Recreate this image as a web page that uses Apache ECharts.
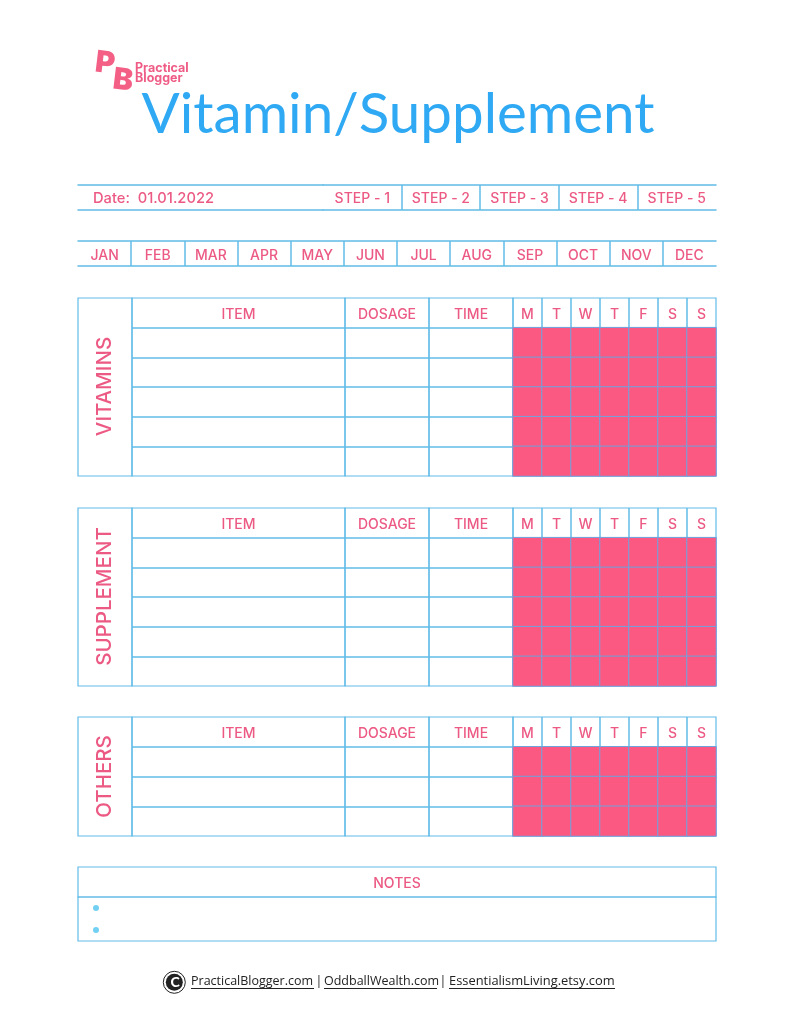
<!DOCTYPE html>
<html>
<head>
<meta charset="utf-8">
<title>Vitamin/Supplement</title>
<style>
  html, body { margin: 0; padding: 0; background: #fff; }
  #planner { width: 794px; height: 1028px; }
</style>
<script src="https://cdn.jsdelivr.net/npm/echarts@6/dist/echarts.min.js"></script>
</head>
<body>
<div id="planner"></div>
<script>
var dateText = 'Date:  01.01.2022';
var steps = ['STEP - 1', 'STEP - 2', 'STEP - 3', 'STEP - 4', 'STEP - 5'];
var months = ['JAN', 'FEB', 'MAR', 'APR', 'MAY', 'JUN', 'JUL', 'AUG', 'SEP', 'OCT', 'NOV', 'DEC'];
var columns = ['ITEM', 'DOSAGE', 'TIME'];
var days = ['M', 'T', 'W', 'T', 'F', 'S', 'S'];
var sections = ['VITAMINS', 'SUPPLEMENT', 'OTHERS'];
var vitaminsShaded = [
  [1, 1, 1, 1, 1, 1, 1],
  [1, 1, 1, 1, 1, 1, 1],
  [1, 1, 1, 1, 1, 1, 1],
  [1, 1, 1, 1, 1, 1, 1],
  [1, 1, 1, 1, 1, 1, 1]
];
var supplementShaded = [
  [1, 1, 1, 1, 1, 1, 1],
  [1, 1, 1, 1, 1, 1, 1],
  [1, 1, 1, 1, 1, 1, 1],
  [1, 1, 1, 1, 1, 1, 1],
  [1, 1, 1, 1, 1, 1, 1]
];
var othersShaded = [
  [1, 1, 1, 1, 1, 1, 1],
  [1, 1, 1, 1, 1, 1, 1],
  [1, 1, 1, 1, 1, 1, 1]
];
var noteBullets = ['a', 'b'];
var footerLinks = ['PracticalBlogger.com', 'OddballWealth.com', 'EssentialismLiving.etsy.com'];

var BLUE = '#62bce8',
  TITLE_BLUE = '#2fa9f3',
  PINK = '#ec5a84',
  CELL_PINK = '#fb5882',
  CELL_LINE = '#6fa3de',
  FONT = 'Inter',
  LABEL_SIZE = 14;

var chart = echarts.init(document.getElementById('planner'));
var grids = [], xAxes = [], yAxes = [], bottomRules = [], series = [];

// add one grid with a category axis each way, returns its index
function addGrid(box, xData, yData, opt) {
  opt = opt || {};
  var i = grids.length;
  grids.push({
    left: box.left, top: box.top, width: box.width, height: box.height,
    show: !opt.noBorder,
    borderColor: BLUE,
    borderWidth: 1.2,
    backgroundColor: 'transparent'
  });
  xAxes.push({
    gridIndex: i,
    type: 'category',
    position: 'top',
    data: xData,
    axisLine: { show: false },
    axisTick: { show: false },
    axisLabel: {
      show: !opt.noLabels,
      inside: true,
      interval: 0,
      margin: opt.margin || 9.5,
      color: PINK,
      fontFamily: FONT,
      fontSize: LABEL_SIZE,
      fontWeight: 500,
      hideOverlap: false
    },
    splitLine: {
      show: xData.length > 1,
      interval: 0,
      showMinLine: false,
      showMaxLine: false,
      lineStyle: { color: BLUE, width: 1.5 }
    }
  });
  yAxes.push({
    gridIndex: i,
    type: 'category',
    inverse: true,
    data: yData,
    axisLine: { show: false },
    axisTick: { show: false },
    axisLabel: { show: false },
    splitLine: {
      show: yData.length > 1,
      interval: 0,
      showMinLine: false,
      showMaxLine: false,
      lineStyle: { color: BLUE, width: 1.5 }
    }
  });
  return i;
}

// top and bottom rules only, no side borders
function addBar(left, width, top, height, labels, margin) {
  var i = addGrid({ left: left, top: top, width: width, height: height }, labels, ['bar'], { noBorder: true, margin: margin });
  xAxes[i].axisLine = { show: true, onZero: false, lineStyle: { color: BLUE, width: 1.5 } };
  bottomRules.push({
    gridIndex: i,
    type: 'category',
    position: 'bottom',
    data: labels,
    axisLine: { show: true, onZero: false, lineStyle: { color: BLUE, width: 1.5 } },
    axisTick: { show: false },
    axisLabel: { show: false },
    splitLine: { show: false }
  });
  return i;
}

// one table: section cell, text columns and shaded day columns
function addTable(top, height, shaded) {
  var rows = ['head'];
  shaded.forEach(function (r, n) { rows.push('row' + n); });

  addGrid({ left: 78, top: top, width: 54, height: height }, ['section'], ['all'], { noLabels: true });
  addGrid({ left: 132, top: top, width: 213, height: height }, [columns[0]], rows);
  addGrid({ left: 345, top: top, width: 84, height: height }, [columns[1]], rows);
  addGrid({ left: 429, top: top, width: 84, height: height }, [columns[2]], rows);
  var g = addGrid({ left: 513, top: top, width: 203, height: height }, days, rows);

  var cells = [];
  shaded.forEach(function (r, y) {
    r.forEach(function (v, x) {
      if (v) cells.push([x, y + 1, v]);
    });
  });
  series.push({
    type: 'heatmap',
    xAxisIndex: g,
    yAxisIndex: g,
    data: cells,
    silent: true,
    itemStyle: { color: CELL_PINK, borderColor: CELL_LINE, borderWidth: 1 }
  });
}

// date row and month row
addBar(78, 245, 185, 25, [''], 7);
addBar(323, 393, 185, 25, steps, 7);
addBar(78, 638, 241, 25, months, 7.5);

addTable(298, 178, vitaminsShaded);
addTable(508, 178, supplementShaded);
addTable(717, 119, othersShaded);

// notes box
addGrid({ left: 78, top: 867, width: 638, height: 30 }, ['NOTES'], ['head']);
addGrid({ left: 78, top: 897, width: 638, height: 44 }, ['body'], ['body'], { noLabels: true });
var b = addGrid({ left: 78, top: 897, width: 36, height: 44 }, ['bullet'], noteBullets, { noBorder: true, noLabels: true });
yAxes[b].splitLine.show = false;
series.push({
  type: 'scatter',
  xAxisIndex: b,
  yAxisIndex: b,
  symbolSize: 6,
  silent: true,
  itemStyle: { color: '#74d0f2', opacity: 1 },
  data: noteBullets.map(function (n) { return ['bullet', n]; })
});

function text(str, x, y, font, fill, extra) {
  return Object.assign({
    type: 'text',
    x: x,
    y: y,
    silent: true,
    style: { text: str, font: font, fill: fill, align: 'center', verticalAlign: 'middle' }
  }, extra || {});
}

function leftText(str, x, y, font, fill) {
  return {
    type: 'text',
    x: x,
    y: y,
    silent: true,
    style: { text: str, font: font, fill: fill, align: 'left', verticalAlign: 'middle' }
  };
}

var graphics = [
  // logo
  text('P', 105, 63.5, '900 30px Inter', '#f45f86', { rotation: -0.12 }),
  text('B', 123, 80.5, '900 30px Inter', '#f45f86', { rotation: -0.12 }),
  leftText('Practical', 135, 68, '700 12.5px Inter', '#ef5c85'),
  leftText('Blogger', 135, 78.5, '700 12.5px Inter', '#ef5c85'),
  // title
  text('Vitamin/Supplement', 398, 115, '400 56.5px Lato', TITLE_BLUE),
  // date
  leftText(dateText, 93, 198.5, '500 14.7px Inter', PINK),
  // section names
  text(sections[0], 105, 386.5, '500 20.5px Inter', PINK, { rotation: Math.PI / 2 }),
  text(sections[1], 105, 596.5, '500 20.5px Inter', PINK, { rotation: Math.PI / 2 }),
  text(sections[2], 105, 776.5, '500 20.5px Inter', PINK, { rotation: Math.PI / 2 }),
  // footer badge
  { type: 'circle', silent: true, shape: { cx: 174.3, cy: 982.3, r: 11 }, style: { fill: '#fff', stroke: '#222', lineWidth: 1 } },
  { type: 'circle', silent: true, shape: { cx: 174.3, cy: 982.3, r: 8.5 }, style: { fill: '#222' } },
  text('C', 175, 982.3, '900 14px Lato', '#fff')
];

// footer links are underlined by hand
var footerStart = [191, 324, 449],
  footerWidth = [123, 113, 166],
  footerScale = [1, 1, 1.03];
footerLinks.forEach(function (link, i) {
  var t = leftText(link, footerStart[i], 981, '12.5px "Open Sans"', '#222');
  t.scaleX = footerScale[i];
  graphics.push(t);
  graphics.push({ type: 'line', silent: true, shape: { x1: footerStart[i], y1: 988.5, x2: footerStart[i] + footerWidth[i], y2: 988.5 }, style: { stroke: '#222', lineWidth: 1 } });
});
graphics.push(text('|', 319, 981, '12.5px "Open Sans"', '#222'));
graphics.push(text('|', 443, 981, '12.5px "Open Sans"', '#222'));

chart.setOption({
  animation: false,
  backgroundColor: '#fff',
  grid: grids,
  xAxis: xAxes.concat(bottomRules),
  yAxis: yAxes,
  series: series,
  graphic: { elements: graphics }
});
</script>
</body>
</html>
